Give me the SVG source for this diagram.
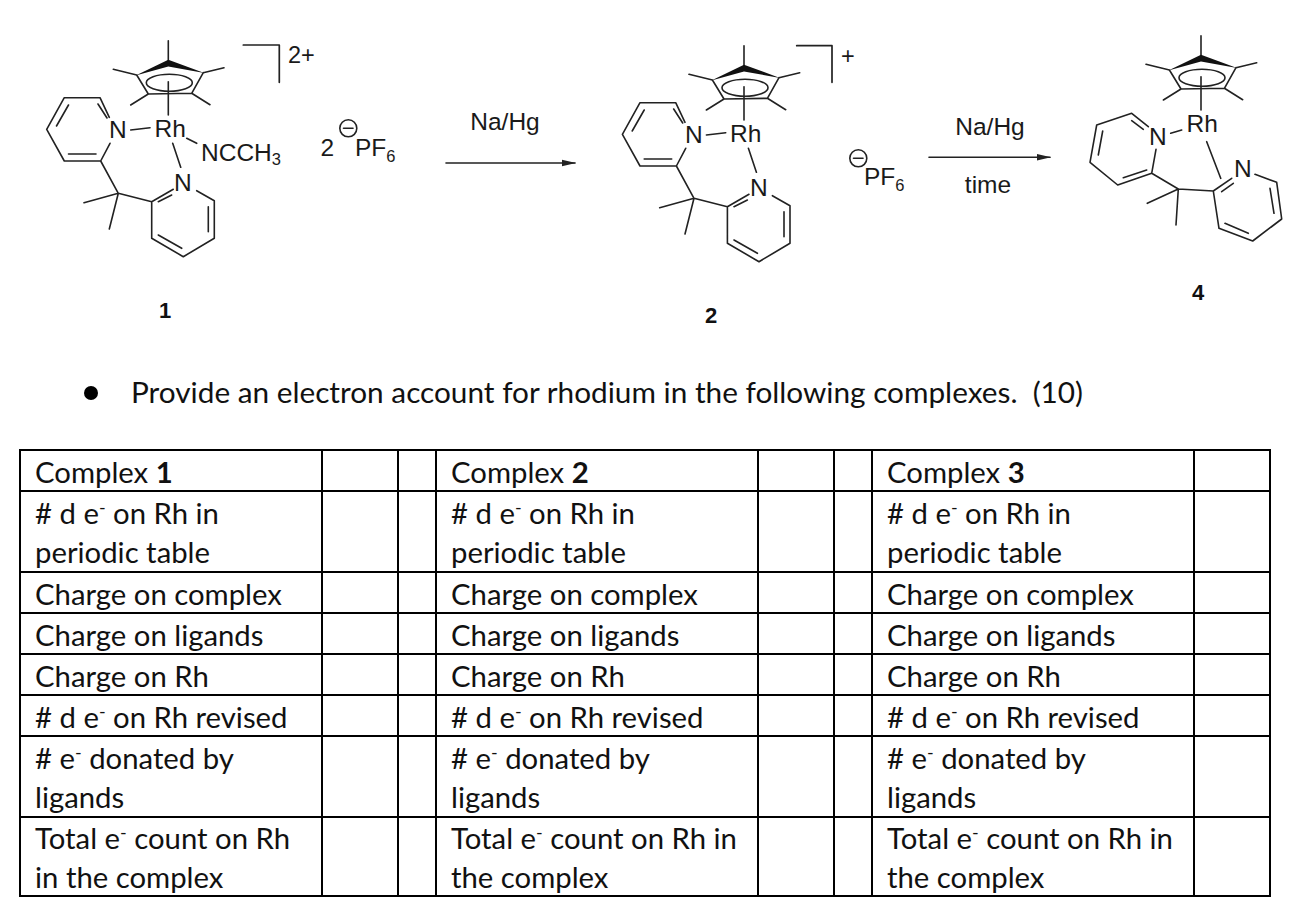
<svg xmlns="http://www.w3.org/2000/svg" width="1302" height="908" viewBox="0 0 1302 908">
<style>
.b{fill:none;stroke:#222;stroke-width:1.6;stroke-linecap:round;stroke-linejoin:round}
.c{font-family:"Liberation Sans",Arial,sans-serif;font-size:24.500px;fill:#1a1a1a}
.s{font-size:16.500px}
.l{font-family:"Liberation Sans",Arial,sans-serif;font-size:22px;font-weight:bold;fill:#111}
.t{font-family:Lato,"Noto Sans",sans-serif;font-size:29.300px;fill:#111;white-space:pre}
.q{font-size:29.750px}
.g{fill:none;stroke:#000;stroke-width:2}
</style>
<defs>
<marker id="ah" markerWidth="14" markerHeight="8" refX="13" refY="4" orient="auto" markerUnits="userSpaceOnUse"><path d="M0 0.8L14 4L0 7.2z" fill="#222"/></marker>
<g id="cp">
<path class="b" d="M168.3 40.7V60.7M136.7 75L113.3 69.3M203.3 72.7L224 67.7M148.3 94L130.7 105M191.7 93.3L210 104.7M136.700 75L148.3 94L191.7 93.3L203.3 72.7"/>
<path d="M135.700 75.500L168.3 59.700L204.300 73L168.300 66.500z" fill="#111"/>
<ellipse class="b" cx="169.3" cy="82.7" rx="23" ry="8.5"/>
<path class="b" d="M168.3 81.7V115"/>
</g>
<g id="core">
<path class="b" d="M109.3 117.3L100 97.7H64.3L46.7 129.3L64.3 161H100.7L110 143.3M68.5 105L56.5 126M68.5 154H96M98 104L107 118M130.7 130L150 127.7M172.7 143.3L180.7 167.3M100.7 161L118.3 193.3L84 202.7M118.3 193.3L109.3 229M118.3 193.3L151.7 201.7L173.3 189.3M158.3 201.7L171.7 195M196.7 190.7L214.3 200.7V238.3L183.3 256.7L151.7 238.3V201.7M208.3 206.7V231.7M158.3 235L181.7 248.3"/>
</g>
</defs>

<g id="compound-1">
<use href="#cp"/>
<use href="#core"/>
<path class="b" d="M186.7 138.3L196.7 143.3"/>
<path class="b" style="stroke-width:1.7" d="M243.3 45H279.3V82.3"/>
<text class="c" x="288" y="63" style="font-size:23.500px">2+</text>
<text class="c" x="109" y="138">N</text>
<text class="c" x="154.500" y="137">Rh</text>
<text class="c" x="201" y="161">NCCH<tspan class="s" dy="4">3</tspan></text>
<text class="c" x="174" y="191">N</text>
<text class="c" x="320.500" y="156">2</text>
<circle class="b" cx="348.300" cy="128.300" r="8.500"/>
<path class="b" d="M343.500 128.300H353"/>
<text class="c" x="355" y="156">PF<tspan class="s" dy="6">6</tspan></text>
<text class="l" x="159" y="318">1</text>
</g>

<g id="compound-2">
<g transform="translate(575.7 5)"><use href="#cp"/><use href="#core"/></g>
<path class="b" style="stroke-width:1.7" d="M796.700 45.700H832V82.300"/>
<text class="c" x="841" y="64" style="font-size:23.500px">+</text>
<text class="c" x="685" y="143">N</text>
<text class="c" x="730" y="142">Rh</text>
<text class="c" x="750" y="196">N</text>
<circle class="b" cx="858.300" cy="158.300" r="8.500"/>
<path class="b" d="M853.500 158.300H863"/>
<text class="c" x="864" y="185">PF<tspan class="s" dy="6">6</tspan></text>
<text class="l" x="705" y="323">2</text>
</g>

<g id="compound-4">
<g transform="translate(1032.7 -5)"><use href="#cp"/></g>
<path class="b" d="M1156 149.300L1151.700 173.300L1117.700 185L1090 162.300L1096.700 125L1131.700 113.300L1148.300 126.700M1102.700 131L1098.300 155M1123.300 177.700L1146.700 170M1131.700 120.700L1143.300 129.300M1170.700 133.300L1181.700 130M1206.700 141.700L1220.700 178.300M1151.700 173.300L1178.300 189L1147.300 203.300M1178.300 189L1176 225M1178.300 189L1213.300 191L1231.700 178.300M1221.700 191.700L1233.300 183.300M1255 174.300L1276.700 182.300L1281.700 219L1252.700 241L1219 228.300L1213.300 191M1270 188.300L1274 213.300M1225 223.300L1248.300 233.300"/>
<text class="c" x="1149" y="145">N</text>
<text class="c" x="1186.500" y="132">Rh</text>
<text class="c" x="1234" y="177">N</text>
<text class="l" x="1192" y="300">4</text>
</g>

<g id="connectors">
<path class="b" d="M446 163H575" marker-end="url(#ah)"/>
<path class="b" d="M929 157.300H1050" marker-end="url(#ah)"/>
</g>
<g id="reagents">
<text class="c" x="505" y="130" text-anchor="middle">Na/Hg</text>
<text class="c" x="990" y="135" text-anchor="middle">Na/Hg</text>
<text class="c" x="988" y="193" text-anchor="middle">time</text>
</g>

<g id="question">
<circle cx="91" cy="393" r="7" fill="#000"/>
<text class="t q" x="131" y="403">Provide an electron account for rhodium in the following complexes.  (10)</text>
</g>

<g id="table">
<rect class="g" x="20" y="450" width="1250" height="446"/>
<path class="g" d="M322 450V896M398 450V896M436 450V896M758 450V896M834 450V896M872 450V896M1194 450V896M20 491H1270M20 572H1270M20 613H1270M20 654H1270M20 695H1270M20 736H1270M20 817H1270"/>
<g id="col-1">
<text class="t" x="35" y="483">Complex <tspan font-weight="bold">1</tspan></text>
<text class="t" x="35" y="524"># d e<tspan font-size="18" dy="-10">-</tspan><tspan dy="10"> on Rh in</tspan></text>
<text class="t" x="35" y="563">periodic table</text>
<text class="t" x="35" y="605">Charge on complex</text>
<text class="t" x="35" y="646">Charge on ligands</text>
<text class="t" x="35" y="687">Charge on Rh</text>
<text class="t" x="35" y="728"># d e<tspan font-size="18" dy="-10">-</tspan><tspan dy="10"> on Rh revised</tspan></text>
<text class="t" x="35" y="769"># e<tspan font-size="18" dy="-10">-</tspan><tspan dy="10"> donated by</tspan></text>
<text class="t" x="35" y="808">ligands</text>
<text class="t" x="35" y="849">Total e<tspan font-size="18" dy="-10">-</tspan><tspan dy="10"> count on Rh</tspan></text>
<text class="t" x="35" y="888">in the complex</text>
</g>
<g id="col-2">
<text class="t" x="451" y="483">Complex <tspan font-weight="bold">2</tspan></text>
<text class="t" x="451" y="524"># d e<tspan font-size="18" dy="-10">-</tspan><tspan dy="10"> on Rh in</tspan></text>
<text class="t" x="451" y="563">periodic table</text>
<text class="t" x="451" y="605">Charge on complex</text>
<text class="t" x="451" y="646">Charge on ligands</text>
<text class="t" x="451" y="687">Charge on Rh</text>
<text class="t" x="451" y="728"># d e<tspan font-size="18" dy="-10">-</tspan><tspan dy="10"> on Rh revised</tspan></text>
<text class="t" x="451" y="769"># e<tspan font-size="18" dy="-10">-</tspan><tspan dy="10"> donated by</tspan></text>
<text class="t" x="451" y="808">ligands</text>
<text class="t" x="451" y="849">Total e<tspan font-size="18" dy="-10">-</tspan><tspan dy="10"> count on Rh in</tspan></text>
<text class="t" x="451" y="888">the complex</text>
</g>
<g id="col-3">
<text class="t" x="887" y="483">Complex <tspan font-weight="bold">3</tspan></text>
<text class="t" x="887" y="524"># d e<tspan font-size="18" dy="-10">-</tspan><tspan dy="10"> on Rh in</tspan></text>
<text class="t" x="887" y="563">periodic table</text>
<text class="t" x="887" y="605">Charge on complex</text>
<text class="t" x="887" y="646">Charge on ligands</text>
<text class="t" x="887" y="687">Charge on Rh</text>
<text class="t" x="887" y="728"># d e<tspan font-size="18" dy="-10">-</tspan><tspan dy="10"> on Rh revised</tspan></text>
<text class="t" x="887" y="769"># e<tspan font-size="18" dy="-10">-</tspan><tspan dy="10"> donated by</tspan></text>
<text class="t" x="887" y="808">ligands</text>
<text class="t" x="887" y="849">Total e<tspan font-size="18" dy="-10">-</tspan><tspan dy="10"> count on Rh in</tspan></text>
<text class="t" x="887" y="888">the complex</text>
</g>
</g>
</svg>
